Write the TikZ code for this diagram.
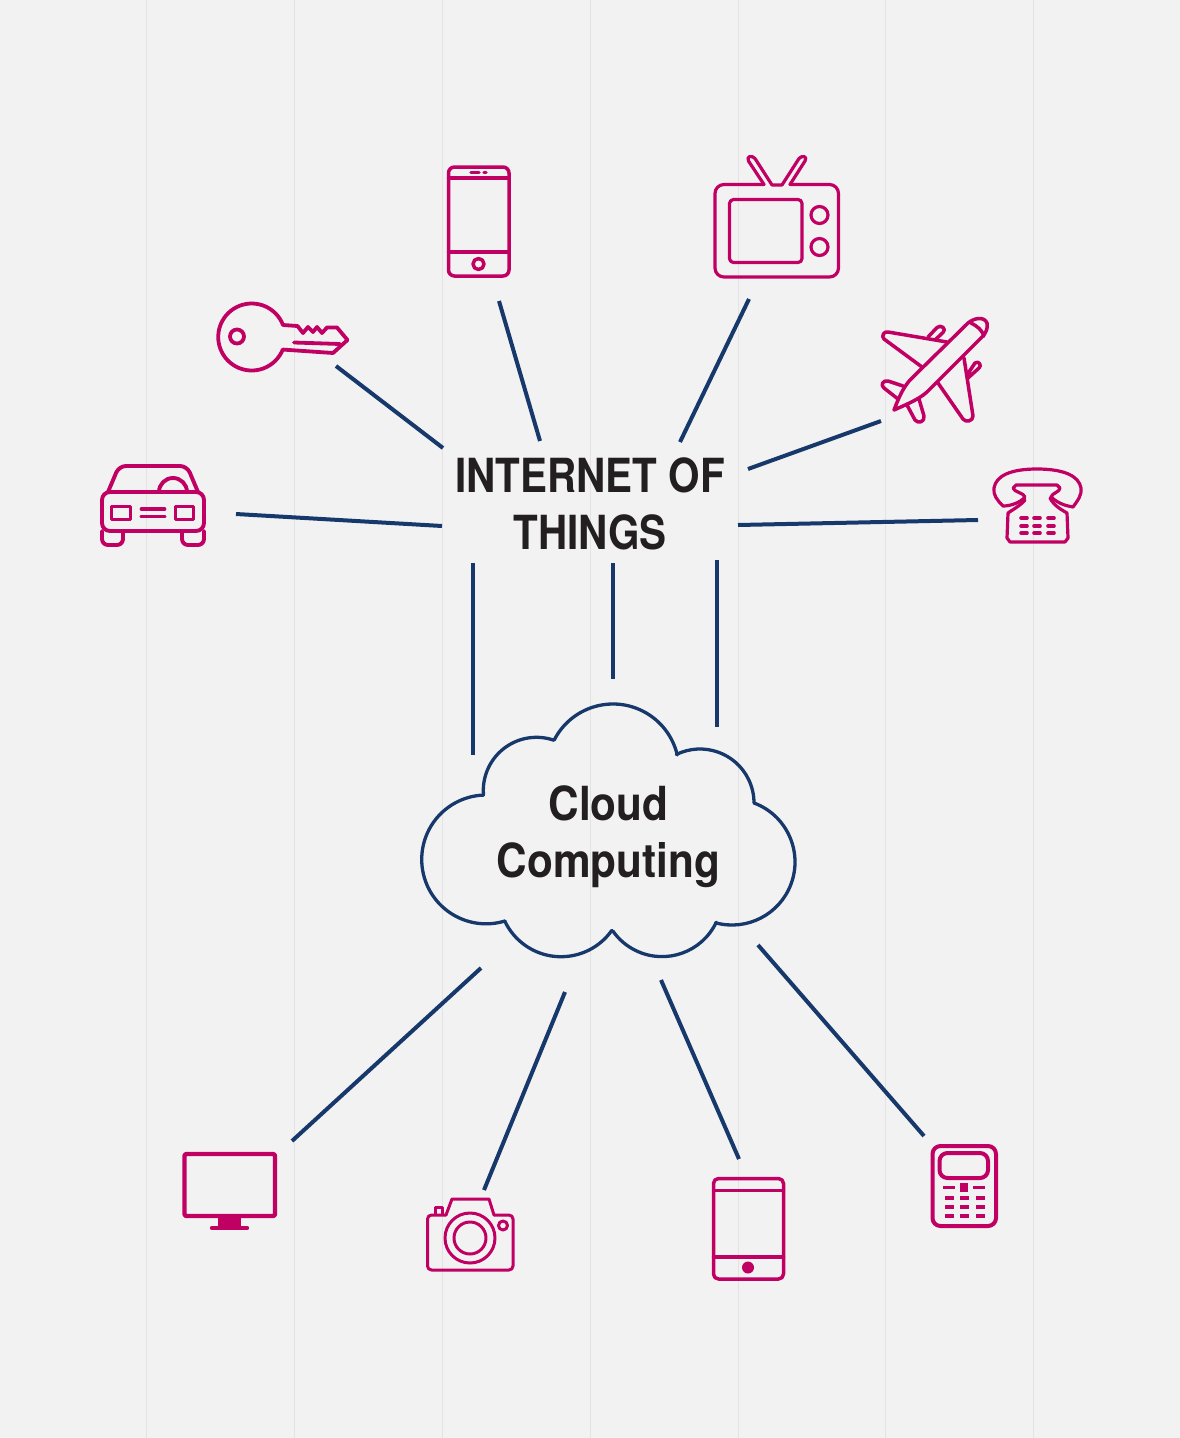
\documentclass[tikz,border=0pt]{standalone}
\usepackage{fontspec}
\setmainfont{TeX Gyre Heros}
\definecolor{pagegray}{HTML}{F2F2F2}
\definecolor{rulegray}{HTML}{E3E3E3}
\definecolor{linknavy}{HTML}{17386B}
\definecolor{iconpink}{HTML}{C00062}
\definecolor{textblack}{HTML}{231F20}
\tikzset{link/.style={draw=linknavy,line width=4pt},
         icon/.style={draw=iconpink,line width=3.5pt,line join=round,line cap=round},
         iconfill/.style={fill=iconpink,draw=none},
         title/.style={text=textblack,align=center,font=\fontsize{47}{57}\selectfont\bfseries}}
\begin{document}
\begin{tikzpicture}[x=1pt,y=-1pt]
\useasboundingbox (0,0) rectangle (1180,1438);
\fill[pagegray] (0,0) rectangle (1180,1438);
\foreach \x in {146,294,442,590,738,885,1033}
  \draw[rulegray,line width=1pt] (\x,0) -- (\x,1438);

% labels
\node[title,xscale=.86] (iot) at (590,504) {INTERNET OF\\THINGS};
\node[title,xscale=.9] (cloudlabel) at (608.5,836.5) {Cloud\\Computing};

% cloud, one arc per lobe
\foreach \cx/\cy/\r/\a/\b in {486.1/859.4/64.4/73/267.5, 536.5/790.5/53.2/175/289, 613/770/66/207/346.8,
    700/803/54/244/360, 732/862/63/-69.5/105, 662/896.6/60/25.2/145, 561/894.5/62.2/35.2/154.7}
  \draw[linknavy,line width=3.3pt,line cap=round] (\cx,\cy) ++(\a:\r) arc[start angle=\a,end angle=\b,radius=\r];

% connectors, upper icons
\coordinate (keyA) at (336,366);   \coordinate (keyB) at (443,448);   \draw[link] (keyA) -- (keyB);
\coordinate (phoneA) at (499,301); \coordinate (phoneB) at (540,441); \draw[link] (phoneA) -- (phoneB);
\coordinate (tvA) at (749,299);    \coordinate (tvB) at (680,442);    \draw[link] (tvA) -- (tvB);
\coordinate (planeA) at (881,421); \coordinate (planeB) at (748,469); \draw[link] (planeA) -- (planeB);
\coordinate (telA) at (978,520);   \coordinate (telB) at (738,525);   \draw[link] (telA) -- (telB);
\coordinate (carA) at (236,514);   \coordinate (carB) at (442,526);   \draw[link] (carA) -- (carB);
% connectors, iot to cloud
\coordinate (upA) at (472.5,563);  \coordinate (downA) at (472.5,755); \draw[link] (upA) -- (downA);
\coordinate (upB) at (613,563);  \coordinate (downB) at (613,679); \draw[link] (upB) -- (downB);
\coordinate (upC) at (717,560);  \coordinate (downC) at (717,727); \draw[link] (upC) -- (downC);
% connectors, lower icons
\coordinate (screenA) at (292,1141); \coordinate (screenB) at (481,968); \draw[link] (screenA) -- (screenB);
\coordinate (camA) at (484,1190);    \coordinate (camB) at (565,992);    \draw[link] (camA) -- (camB);
\coordinate (tabA) at (739,1159);    \coordinate (tabB) at (661,980);    \draw[link] (tabA) -- (tabB);
\coordinate (calcA) at (924,1136);   \coordinate (calcB) at (758,945);   \draw[link] (calcA) -- (calcB);

% phone
\draw[icon,rounded corners=6pt] (448.5,167) rectangle (509,276);
\draw[icon] (448.5,178) -- (509,178) (448.5,252) -- (509,252) (471,172.5) -- (479,172.5) (484,172.5) -- (486,172.5);
\draw[icon] (478.5,264) circle[radius=5.5];

% tv
\draw[icon,line width=3.2pt,rounded corners=9pt] (764,184.5) -- (715,184.5) -- (715,277) -- (838.5,277) -- (838.5,184.5) -- (790,184.5);
\draw[icon,line width=3.2pt] (764,184.5) -- (748.5,161) .. controls (746,156) and (752,155) .. (755,158.5) -- (772,185) -- (782,185)
  -- (799,158.5) .. controls (802,155) and (808,156) .. (805,161) -- (790,184.5);
\draw[icon,line width=3.2pt,rounded corners=4pt] (729.5,199.5) rectangle (802,262.5);
\draw[icon,line width=3.2pt] (819.5,215) circle[radius=8.5] (819.5,247) circle[radius=8.5];

% key
\draw[icon,line width=3.8pt] (283,325) arc[start angle=-21,end angle=-338,radius=33.5]
  -- (333,353) -- (347.5,340) -- (337,327.5) -- (327,327.5) -- (322,333) -- (317,327) -- (313,332) -- (308,327) -- (303,333) -- (297.5,326) -- cycle;
\draw[icon,line width=3.8pt] (237,336.5) circle[radius=7] (294,342.5) -- (340,344);

% plane
\draw[icon,line width=3.5pt] (894,410) .. controls (899,397) and (903,388) .. (910,380) -- (968,323)
  .. controls (974,318) and (984,316) .. (987,323) .. controls (988,329) and (986,332) .. (983,336)
  -- (927,392) .. controls (918,400) and (905,405) .. (894,410) -- cycle;
\draw[icon,line width=3.5pt] (971,323) .. controls (977,326) and (982,330) .. (984,336);
\draw[icon,line width=3.5pt] (922,367) -- (884,339) .. controls (881,336) and (884,331) .. (888,332) -- (947,342);
\draw[icon,line width=3.5pt] (928,337) -- (937,327.5) .. controls (941,324) and (947,329) .. (943,332.5) -- (935,340);
\draw[icon,line width=3.5pt] (938,383) -- (963,419) .. controls (966,423) and (973,421) .. (973,416) -- (964,358);
\draw[icon,line width=3.5pt] (967,375) -- (975,363) .. controls (979,360) and (982,366) .. (979,368) -- (968,378);
\draw[icon,line width=3.5pt] (903,386) -- (888,381) .. controls (883,380) and (880,385) .. (884,388) -- (898,399);
\draw[icon,line width=3.5pt] (907,405) -- (915,420) .. controls (918,424) and (925,422) .. (924,416) -- (919,399);

% telephone
\draw[icon,line width=3.2pt] (1003,506) .. controls (997,500) and (993,495) .. (994,488) .. controls (996,476) and (1010,469) .. (1037,469)
  .. controls (1064,469) and (1079,476) .. (1081,488) .. controls (1082,495) and (1078,500) .. (1073,507)
  .. controls (1068,506) and (1060,505) .. (1051,497) .. controls (1052,493) and (1060,492) .. (1060,488) -- (1057,485) -- (1016,485) -- (1013,488)
  .. controls (1014,492) and (1024,493) .. (1025,497) .. controls (1020,503) and (1010,506) .. (1003,506) -- cycle;
\draw[icon,line width=3.2pt] (1025,500) .. controls (1020,506) and (1012,510) .. (1008,513) -- (1007,538) -- (1010,542) -- (1065,542) -- (1068,538) -- (1067,513)
  .. controls (1062,510) and (1054,506) .. (1050,498);
\foreach \y in {518,526,533}
  \foreach \x in {1021,1034,1048}
    \draw[icon,line width=3.6pt] (\x,\y) -- (\x+6,\y);

% car
\draw[icon,line width=3.9pt,rounded corners=7pt] (108,492) -- (119,466) -- (187,466) -- (198,492);
\draw[icon,line width=3.9pt,rounded corners=8pt] (102,531) -- (102,492) -- (204,492) -- (204,531) -- cycle;
\draw[icon,line width=3.9pt,rounded corners=6pt] (102,531) -- (102,545) -- (123,545) -- (123,531);
\draw[icon,line width=3.9pt,rounded corners=6pt] (182,531) -- (182,545) -- (204,545) -- (204,531);
\draw[icon,line width=3.9pt,line cap=butt] (111.5,506.5) rectangle (130.5,519.5) (175.5,506.5) rectangle (193.5,519.5);
\draw[icon,line width=3.9pt] (141.5,509) -- (164.5,509) (141.5,516.5) -- (164.5,516.5);
\draw[icon,line width=3.9pt] (159,492) arc[start angle=180,end angle=360,radius=14];

% monitor
\draw[icon,line width=4.4pt,rounded corners=2pt] (184.5,1154) rectangle (275,1216);
\fill[iconfill] (218,1216) rectangle (241,1227);
\draw[icon,line width=4.4pt] (212,1228) -- (247,1228);

% camera
\draw[icon,line width=3pt,rounded corners=4pt] (446,1215) -- (427.5,1215) -- (427.5,1270) -- (513,1270) -- (513,1215) -- (494,1215);
\draw[icon,line width=3pt] (446,1215) -- (452,1199) -- (489,1199) -- (494,1215);
\draw[icon,line width=3pt] (435.5,1214) -- (435.5,1207) -- (442.5,1207) -- (442.5,1214);
\draw[icon,line width=3pt] (470,1238) circle[radius=25] (470,1238) circle[radius=16] (503,1225.5) circle[radius=4.5];

% tablet
\draw[icon,rounded corners=5pt] (713.5,1178.5) rectangle (783.5,1279);
\draw[icon] (713.5,1190.5) -- (783.5,1190.5) (713.5,1257) -- (783.5,1257);
\fill[iconfill] (748,1267.5) circle[radius=6];

% calculator
\draw[icon,line width=4pt,rounded corners=8pt] (932.5,1146) rectangle (996,1226);
\draw[icon,line width=4pt,rounded corners=8pt] (939.5,1153) rectangle (988,1178);
\draw[icon,line width=3.4pt,line cap=butt] (943,1187.5) -- (955,1187.5) (973,1187.5) -- (985,1187.5);
\fill[iconfill] (960,1183) rectangle (968,1192);
\foreach \y in {1198,1207,1216}
  \foreach \x in {945,960,976}
    \fill[iconfill] (\x,\y-2.3) rectangle (\x+8.5,\y+2.3);
\end{tikzpicture}
\end{document}
